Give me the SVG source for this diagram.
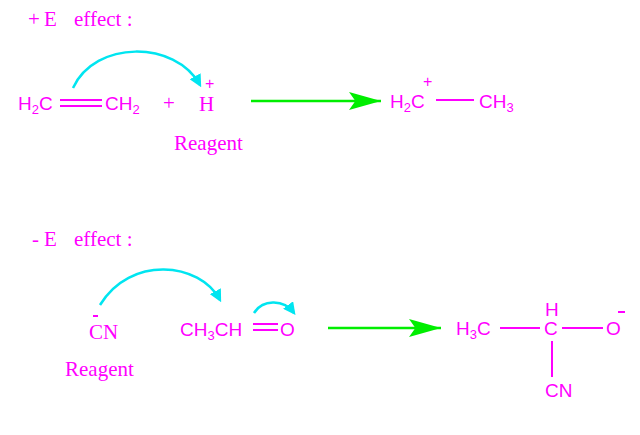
<svg xmlns="http://www.w3.org/2000/svg" width="640" height="435" viewBox="0 0 640 435">
<defs>
<marker id="ca" viewBox="0 0 10 10" refX="8" refY="5" markerWidth="5" markerHeight="5" orient="auto"><path d="M0,0 L10,5 L0,10 Z" fill="#00e5f0"/></marker>
<marker id="ga" viewBox="0 0 10 10" refX="10" refY="5" markerWidth="32" markerHeight="18" markerUnits="userSpaceOnUse" orient="auto" preserveAspectRatio="none"><path d="M0,0 L10,5 L0,10 L2,5 Z" fill="#00ee00"/></marker>
</defs>
<style>
.s{font-family:"Liberation Sans",Arial,sans-serif;font-size:19px;fill:#ff00ff}
.r{font-family:"Liberation Serif","Times New Roman",serif;font-size:21px;fill:#ff00ff}
.p{font-family:"Liberation Sans",Arial,sans-serif;font-size:16px;fill:#ff00ff}
.sub{font-size:13px}
.b{stroke:#ff00ff;stroke-width:2;fill:none}
.c{stroke:#00e5f0;stroke-width:2.5;fill:none}
.g{stroke:#00ee00;stroke-width:2.5}
</style>
<rect width="640" height="435" fill="#fff"/>
<text class="r" x="28" y="26">+</text><text class="r" x="44" y="26">E</text><text class="r" x="74" y="26">effect :</text>
<text class="r" x="32" y="246">-</text><text class="r" x="44" y="246">E</text><text class="r" x="74" y="246">effect :</text>
<g id="ethene"><text class="s" x="18" y="110">H<tspan class="sub" dy="4">2</tspan><tspan dy="-4">C</tspan></text>
<line class="b" x1="60" y1="100" x2="102" y2="100"/><line class="b" x1="60" y1="106" x2="102" y2="106"/>
<text class="s" x="105" y="110">CH<tspan class="sub" dy="4">2</tspan></text></g>
<text class="r" x="163" y="110">+</text>
<g id="hplus"><text class="r" x="199" y="111">H</text><text class="p" x="205" y="89">+</text></g>
<text class="r" x="174" y="150">Reagent</text>
<g id="product1"><text class="s" x="390" y="108">H<tspan class="sub" dy="4">2</tspan><tspan dy="-4">C</tspan></text><text class="p" x="423" y="87">+</text>
<line class="b" x1="436" y1="100" x2="474" y2="100"/><text class="s" x="479" y="108">CH<tspan class="sub" dy="4">3</tspan></text></g>
<g id="cn"><text class="r" x="89" y="339">CN</text><line class="b" x1="93" y1="316" x2="98" y2="316"/></g>
<text class="r" x="65" y="376">Reagent</text>
<g id="acetaldehyde"><text class="s" x="180" y="336">CH<tspan class="sub" dy="4">3</tspan><tspan dy="-4">CH</tspan></text>
<line class="b" x1="253" y1="324" x2="278" y2="324"/><line class="b" x1="253" y1="330" x2="278" y2="330"/>
<text class="s" x="280" y="336">O</text></g>
<g id="product2"><text class="s" x="456" y="335">H<tspan class="sub" dy="4">3</tspan><tspan dy="-4">C</tspan></text>
<line class="b" x1="500" y1="328" x2="540" y2="328"/>
<text class="s" x="544" y="335">C</text><text class="s" x="545" y="316">H</text>
<line class="b" x1="562" y1="328" x2="603" y2="328"/>
<text class="s" x="606" y="335">O</text><line class="b" x1="618" y1="312" x2="625" y2="312"/>
<line class="b" x1="552" y1="341" x2="552" y2="377"/>
<text class="s" x="545" y="397">CN</text></g>
<g id="connectors">
<path class="c" d="M73,88 C95,40 175,40 200,85" style="marker-end:url(#ca)"/>
<line class="g" x1="251" y1="101" x2="381" y2="101" marker-end="url(#ga)"/>
<path class="c" d="M100,305 C130,255 200,262 220,300" style="marker-end:url(#ca)"/>
<path class="c" d="M254,313 C262,300 283,298 294,313" style="marker-end:url(#ca)"/>
<line class="g" x1="328" y1="328" x2="441" y2="328" marker-end="url(#ga)"/>
</g>
</svg>
